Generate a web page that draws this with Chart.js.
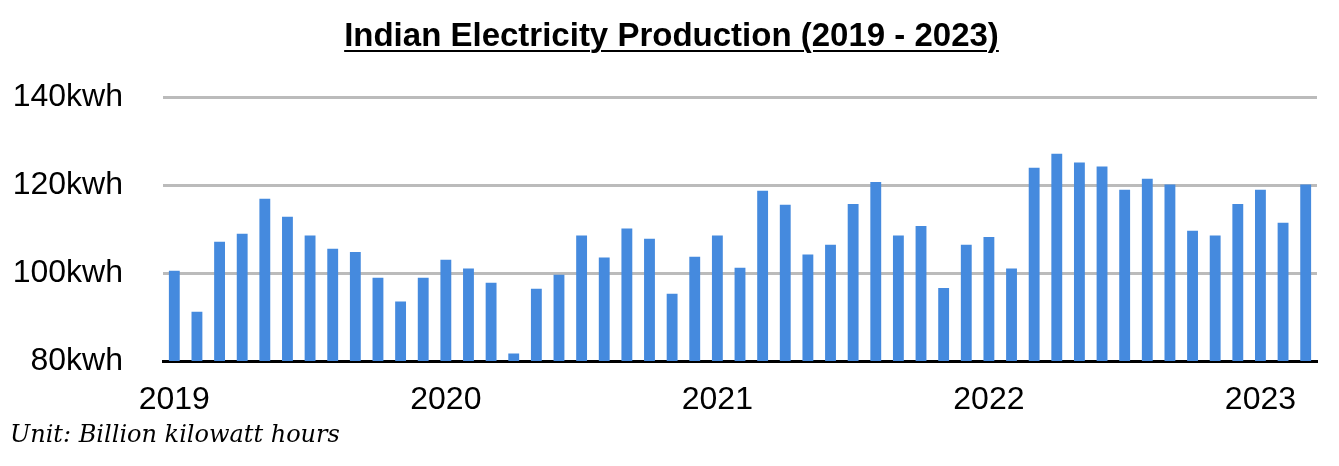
<!DOCTYPE html>
<html>
<head>
<meta charset="utf-8">
<script src="https://cdn.jsdelivr.net/npm/chart.js@4.4.1/dist/chart.umd.min.js"></script>
<style>
    html, body { margin: 0; padding: 0; background: #fff; }
    #wrap { position: relative; width: 1339px; height: 466px; }
    #title {
        position: absolute; left: 0; top: 16px; width: 1343px; text-align: center;
        font-family: "Liberation Sans", Arial, sans-serif; font-weight: bold; font-size: 33px;
        text-decoration: underline; text-decoration-thickness: 2px; text-underline-offset: 4px;
        color: #000;
    }
    #unit {
        position: absolute; left: 10px; top: 420px;
        font-family: "DejaVu Serif", Georgia, serif; font-style: italic; font-size: 24px;
        color: #000;
    }
</style>
</head>
<body>
<div id="wrap">
    <canvas id="prodChart" width="1339" height="466"></canvas>
    <div id="title">Indian Electricity Production (2019 - 2023)</div>
    <div id="unit">Unit: Billion kilowatt hours</div>
</div>
<script>
// Données (milliards de kWh, mensuel)
const years = [2019, 2020, 2021, 2022, 2023];
const monthsPerYear = [12, 12, 12, 12, 3];
const production = [
    100.5, 91.2, 107.1, 108.9, 116.9, 112.8, 108.5, 105.5, 104.8, 98.9, 93.5, 98.9,
    103.0, 101.0, 97.8, 81.7, 96.4, 99.6, 108.5, 103.5, 110.1, 107.8, 95.3, 103.7,
    108.5, 101.2, 118.7, 115.5, 104.2, 106.4, 115.7, 120.7, 108.5, 110.7, 96.6, 106.4,
    108.2, 101.0, 123.9, 127.1, 125.1, 124.2, 118.9, 121.4, 120.1, 109.6, 108.5, 115.7,
    118.9, 111.4, 120.1
];
const yTicks = [80, 100, 120, 140];

// Étiquettes mensuelles : "2019-1", "2019-2", ...
const labels = [];
years.forEach(function(y, i) {
    for (let m = 1; m <= monthsPerYear[i]; m++) {
        labels.push(y + '-' + m);
    }
});

const ctx = document.getElementById('prodChart');

new Chart(ctx, {
    type: 'bar',
    data: {
        labels: labels,
        datasets: [{
            label: 'Production',
            data: production,
            backgroundColor: '#458ade',
            categoryPercentage: 1,
            barPercentage: 0.48
        }]
    },
    options: {
        responsive: false,
        animation: false,
        layout: {
            padding: { left: 0, right: 22, top: 97, bottom: 0 }
        },
        plugins: {
            legend: { display: false },
            tooltip: { enabled: false }
        },
        scales: {
            x: {
                grid: { display: false, drawTicks: false },
                border: { display: true, color: '#000', width: 3 },
                ticks: {
                    autoSkip: false,
                    maxRotation: 0,
                    padding: 20,
                    color: '#000',
                    font: { family: 'Liberation Sans', size: 32 },
                    callback: function(val) {
                        const lab = this.getLabelForValue(val);
                        return lab.endsWith('-1') ? lab.split('-')[0] : '';
                    }
                },
                afterFit: function(scale) { scale.height = 105; }
            },
            y: {
                min: 80,
                max: 140,
                grid: { color: '#bbbbbb', lineWidth: 3, drawTicks: false },
                border: { display: false },
                afterBuildTicks: function(scale) {
                    scale.ticks = yTicks.map(v => ({ value: v }));
                },
                ticks: {
                    padding: 40,
                    color: '#000',
                    font: { family: 'Liberation Sans', size: 32 },
                    callback: function(v) { return v + 'kwh'; }
                },
                afterFit: function(scale) { scale.width = 163; }
            }
        }
    }
});
</script>
</body>
</html>
